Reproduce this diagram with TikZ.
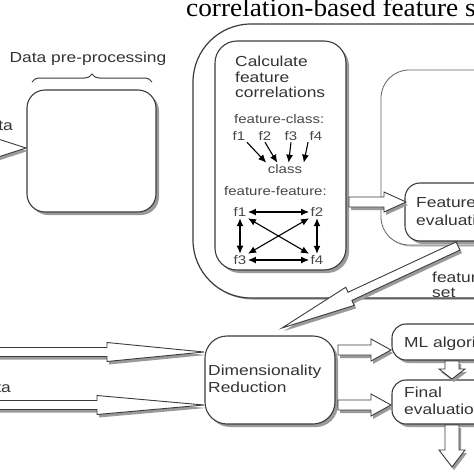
\documentclass[tikz,border=0pt]{standalone}
\usepackage{fontspec}
\setmainfont{Liberation Sans}[FakeStretch=1.2]
\newfontfamily\titlefont{Liberation Serif}[FakeStretch=1.05]
\usetikzlibrary{calc,shadows,decorations.pathreplacing,arrows.meta}
\definecolor{linec}{HTML}{3C3C3C}
\definecolor{txtc}{HTML}{333333}
\definecolor{shadc}{HTML}{9A9A9A}
\newcommand\fatarrow[5]{%
  \coordinate (hb) at ($(#2)!#5!(#1)$);
  \draw[harrow] ($(#1)!#3!90:(#2)$) -- ($(hb)!#3!-90:(#1)$) -- ($(hb)!#4!-90:(#1)$)
     -- (#2) -- ($(hb)!#4!90:(#1)$) -- ($(hb)!#3!90:(#1)$) -- ($(#1)!#3!-90:(#2)$) -- cycle;}
\begin{document}
\begin{tikzpicture}[x=1pt,y=-1pt,
  box/.style={draw=linec, line width=1.1pt, fill=white, rounded corners=#1,
    drop shadow={shadow xshift=3pt, shadow yshift=-3pt, fill=shadc, opacity=1}, inner sep=0pt},
  thinbox/.style={draw=linec!80, line width=0.8pt, fill=white, rounded corners=#1,
    drop shadow={shadow xshift=1.5pt, shadow yshift=-1.5pt, fill=shadc!60, opacity=1}, inner sep=0pt},
  harrow/.style={draw=linec, line width=0.9pt, fill=white, line join=miter,
    drop shadow={shadow xshift=2pt, shadow yshift=-3pt, fill=shadc, opacity=1}},
  lbl/.style={font=\fontsize{14.5}{16}\selectfont, text=txtc, inner sep=0pt, anchor=base west},
  sm/.style={font=\fontsize{12.5}{13}\selectfont, text=txtc!90, inner sep=1.5pt},
  ptr/.style={-{Latex[length=8pt,width=7pt]}, line width=1.1pt, black},
  dptr/.style={{Latex[length=8pt,width=7pt]}-{Latex[length=8pt,width=7pt]}, line width=1.1pt, black}]
\useasboundingbox (0,0) rectangle (474,474);
\clip (0,0) rectangle (474,474);

% title
\node[anchor=base west, font=\titlefont\fontsize{26}{28}\selectfont, inner sep=0pt, text=black] (title) at (186,16) {correlation-based feature selection};

% outer container
\node[draw=linec, line width=1.2pt, fill=white, rounded corners=58, inner sep=0pt,
  drop shadow={shadow xshift=1.5pt, shadow yshift=-1.5pt, fill=shadc, opacity=1},
  minimum width=367pt, minimum height=274pt] (cfs) at (376.5,161) {};
% inner boxes
\node[box=22, minimum width=131pt, minimum height=229pt] (calc) at (280.5,155.5) {};
\node[thinbox=28, minimum width=179pt, minimum height=175pt] (fsel) at (470.5,157.5) {};
\node[box=15, minimum width=135pt, minimum height=58pt] (feval) at (472.5,212) {};
\node[box=18, minimum width=129pt, minimum height=122pt] (dpp) at (91.5,151) {};
\node[box=22, minimum width=130pt, minimum height=88pt] (dim) at (270,380) {};
\node[box=14, minimum width=148pt, minimum height=36pt] (ml) at (466,342) {};
\node[box=14, minimum width=148pt, minimum height=44pt] (fin) at (466,402) {};

% data pre-processing label and brace
\node[lbl, anchor=base] (dpplbl) at (88,62) {Data pre-processing};
\coordinate (bl) at (32,82);
\coordinate (br) at (152,82);
\draw[linec, line width=1pt, decorate, decoration={brace, amplitude=8pt}] (bl) -- (br);

% left texts
\node[lbl, anchor=base east] (data1) at (13,130) {Data};
\node[lbl, anchor=base east] (data2) at (11,392) {Data};

% calculate box text
\node[lbl] (c1) at (235,66) {Calculate};
\node[lbl] (c2) at (235,82) {feature};
\node[lbl] (c3) at (235,97) {correlations};
\node[sm, anchor=base west, inner sep=0pt] (fc) at (234,123) {feature-class:};
\node[sm] (a1) at (239,136) {f1};
\node[sm] (a2) at (265,136) {f2};
\node[sm] (a3) at (291,136) {f3};
\node[sm] (a4) at (316,136) {f4};
\node[sm] (cls) at (285,169) {class};
\draw[ptr] (a1.south east) -- (cls.north west);
\draw[ptr] (a2.south) -- (cls.141);
\draw[ptr] (a3.south) -- (cls.60);
\draw[ptr] (a4.south west) -- (cls.north east);

\node[sm, anchor=base west, inner sep=0pt] (ff) at (224,195) {feature-feature:};
\node[sm] (b1) at (240,212) {f1};
\node[sm] (b2) at (317,212) {f2};
\node[sm] (b3) at (240,260) {f3};
\node[sm] (b4) at (317,260) {f4};
\draw[dptr] (b1) -- (b2);
\draw[dptr] (b3) -- (b4);
\draw[dptr] (b1) -- (b3);
\draw[dptr] (b2) -- (b4);
\draw[dptr] (b1.south east) -- (b4.north west);
\draw[dptr] (b2.south west) -- (b3.north east);

% feature evaluation text
\node[lbl] (fe1) at (416,207) {Feature};
\node[lbl] (fe2) at (416,225) {evaluation};

% feature set text
\node[lbl] (fs1) at (432,282) {feature};
\node[lbl] (fs2) at (432,297) {set};

% dimensionality reduction text
\node[lbl] (d1) at (208,375) {Dimensionality};
\node[lbl] (d2) at (208,392) {Reduction};

% ML / final text
\node[lbl] (ml1) at (404,347) {ML algorithm};
\node[lbl] (fi1) at (404,397) {Final};
\node[lbl] (fi2) at (404,414) {evaluation};

% hollow arrows
\coordinate (a0s) at (-70,148); \coordinate (a0t) at (26,148);
\fatarrow{a0s}{a0t}{5pt}{11pt}{34pt}
\coordinate (q1s) at (349,202); \coordinate (q1t) at (406,202);
\fatarrow{q1s}{q1t}{5pt}{10pt}{22pt}
\coordinate (fss) at (458,246); \coordinate (fst) at (282,328);
\fatarrow{fss}{fst}{4.5pt}{10pt}{75pt}
\coordinate (r1s) at (-20,352); \coordinate (r1t) at (204,352);
\fatarrow{r1s}{r1t}{4.5pt}{9.5pt}{97pt}
\coordinate (r2s) at (-20,405); \coordinate (r2t) at (204,405);
\fatarrow{r2s}{r2t}{4.5pt}{9.5pt}{107pt}
\coordinate (m1s) at (338,350); \coordinate (m1t) at (391,350);
\fatarrow{m1s}{m1t}{5pt}{11pt}{20pt}
\coordinate (m2s) at (338,405); \coordinate (m2t) at (391,405);
\fatarrow{m2s}{m2t}{5pt}{11pt}{20pt}
\coordinate (v1s) at (452,361); \coordinate (v1t) at (452,379);
\fatarrow{v1s}{v1t}{7pt}{13pt}{10pt}
\coordinate (v2s) at (452,425); \coordinate (v2t) at (452,467);
\fatarrow{v2s}{v2t}{7pt}{13pt}{17pt}
\end{tikzpicture}
\end{document}
